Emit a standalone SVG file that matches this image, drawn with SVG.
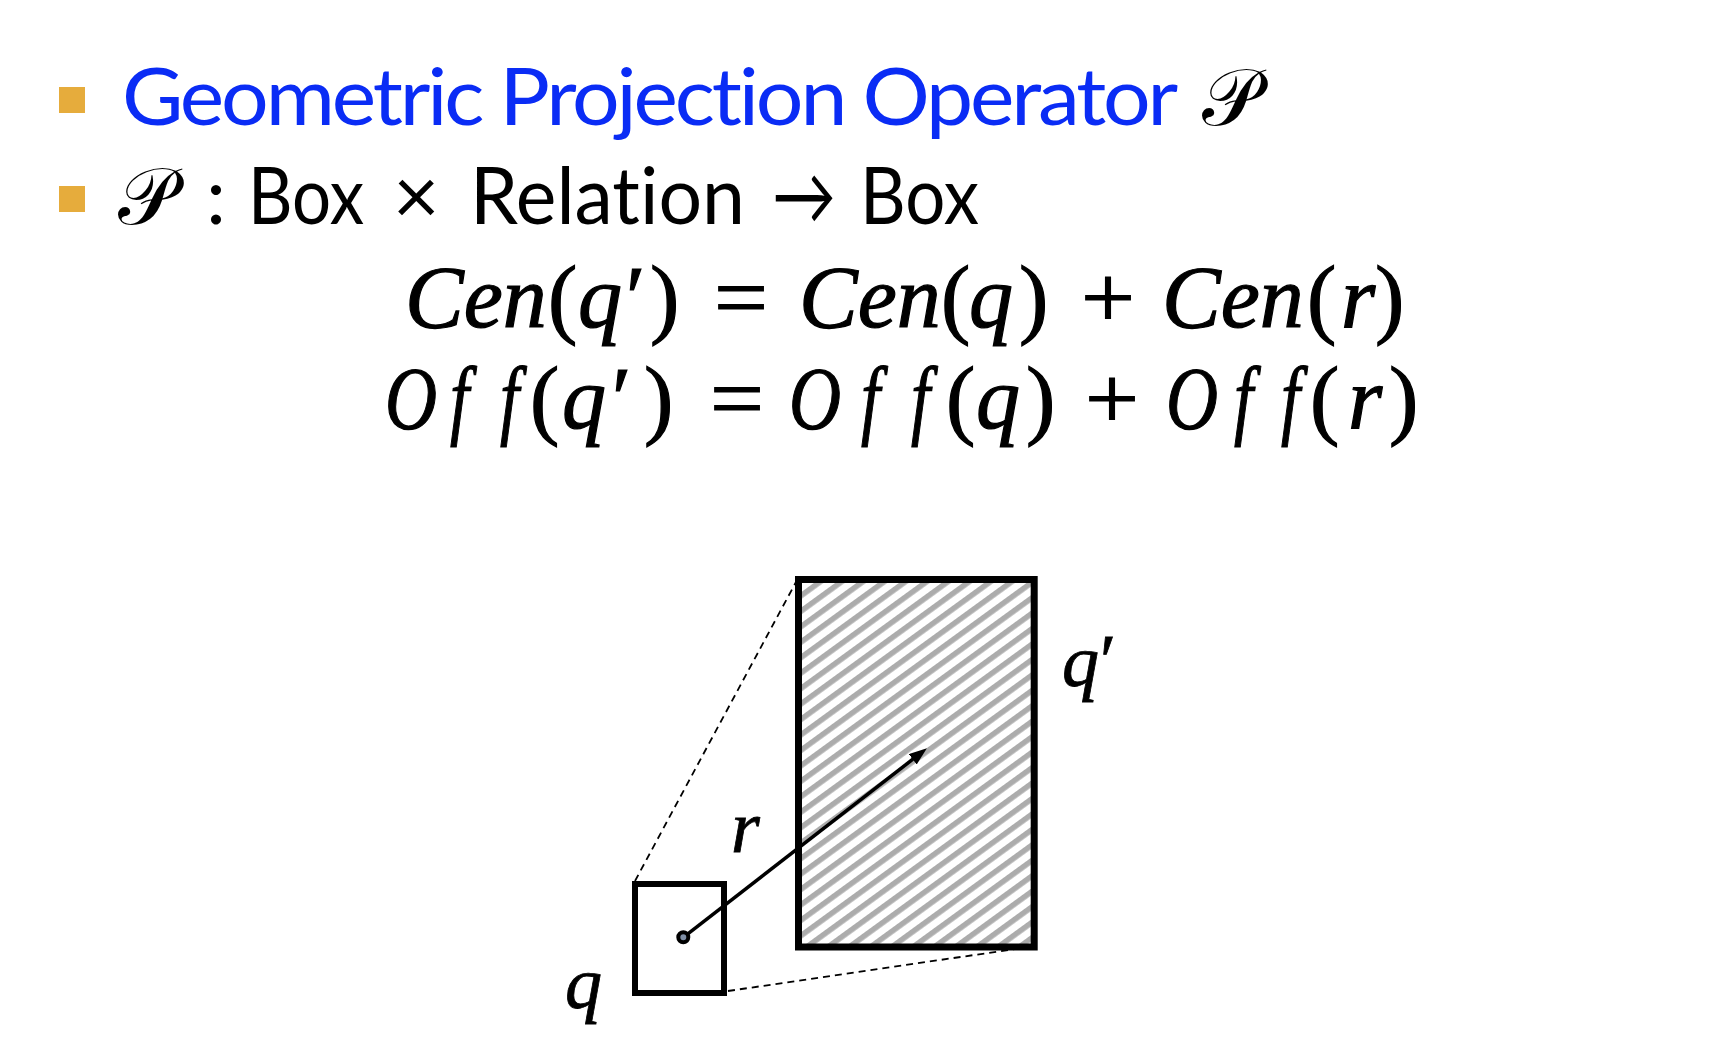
<svg xmlns="http://www.w3.org/2000/svg" width="1710" height="1050" viewBox="0 0 1710 1050">
<style>
.bul{fill:#E6AC3C}
.sans{font-family:Lato,"Open Sans","Liberation Sans",sans-serif;font-size:80px;font-variant-ligatures:none}
.math{font-family:"Liberation Serif","DejaVu Serif",serif;font-size:88px;fill:#000;stroke:#000;stroke-width:1.2}
.it{font-style:italic}
.lbl{font-family:"Liberation Serif","DejaVu Serif",serif;font-style:italic;font-size:74px;fill:#000;stroke:#000;stroke-width:0.8}
.scr{font-family:"DejaVu Serif","Noto Sans","Liberation Serif",serif;font-style:normal}
</style>
<defs>
<pattern id="hatch" patternUnits="userSpaceOnUse" width="20" height="12.5" patternTransform="rotate(-36)">
<rect width="20" height="12.5" fill="#fff"/>
<rect width="20" height="5.5" fill="#acacac"/>
</pattern>
<marker id="ah" markerUnits="userSpaceOnUse" markerWidth="18" markerHeight="13" refX="1" refY="6.5" orient="auto">
<path d="M0,0 L18,6.5 L0,13 z" fill="#000"/>
</marker>
</defs>
<rect width="1710" height="1050" fill="#fff"/>
<g id="bullet1">
<rect class="bul" x="59" y="87" width="26" height="26"/>
<text class="sans" x="122" y="125" font-size="78" fill="#0a2cf5" letter-spacing="-3" textLength="1053" lengthAdjust="spacingAndGlyphs">Geometric Projection Operator</text>
<text class="sans scr" x="1202" y="125" fill="#000">𝒫</text>
</g>
<g id="bullet2">
<rect class="bul" x="59" y="186" width="26" height="26"/>
<text class="sans" y="224" fill="#000"><tspan class="scr" x="118">𝒫</tspan><tspan x="206">:</tspan><tspan x="248" textLength="116" lengthAdjust="spacingAndGlyphs">Box</tspan><tspan x="393">×</tspan><tspan x="470" textLength="275" lengthAdjust="spacingAndGlyphs">Relation</tspan><tspan x="772" textLength="64" lengthAdjust="spacingAndGlyphs">→</tspan><tspan x="860" textLength="119" lengthAdjust="spacingAndGlyphs">Box</tspan></text>
</g>
<g id="eq1">
<text class="math" y="327"><tspan class="it" x="405">Cen</tspan><tspan x="548">(</tspan><tspan class="it" x="578">q</tspan><tspan x="626">′</tspan><tspan x="650">)</tspan><tspan x="714" textLength="54" lengthAdjust="spacingAndGlyphs">=</tspan><tspan class="it" x="799">Cen</tspan><tspan x="941">(</tspan><tspan class="it" x="969">q</tspan><tspan x="1019">)</tspan><tspan x="1081" textLength="54" lengthAdjust="spacingAndGlyphs">+</tspan><tspan class="it" x="1162">Cen</tspan><tspan x="1307">(</tspan><tspan class="it" x="1341">r</tspan><tspan x="1375">)</tspan></text>
</g>
<g id="eq2">
<text class="math" y="428"><tspan class="it" x="385" textLength="52" lengthAdjust="spacingAndGlyphs">O</tspan><tspan class="it" x="450" textLength="19" lengthAdjust="spacingAndGlyphs">f</tspan><tspan class="it" x="500" textLength="19" lengthAdjust="spacingAndGlyphs">f</tspan><tspan x="530">(</tspan><tspan class="it" x="562">q</tspan><tspan x="612">′</tspan><tspan x="644">)</tspan><tspan x="710" textLength="54" lengthAdjust="spacingAndGlyphs">=</tspan><tspan class="it" x="789" textLength="52" lengthAdjust="spacingAndGlyphs">O</tspan><tspan class="it" x="861" textLength="19" lengthAdjust="spacingAndGlyphs">f</tspan><tspan class="it" x="911" textLength="19" lengthAdjust="spacingAndGlyphs">f</tspan><tspan x="946">(</tspan><tspan class="it" x="976">q</tspan><tspan x="1026">)</tspan><tspan x="1085" textLength="54" lengthAdjust="spacingAndGlyphs">+</tspan><tspan class="it" x="1166" textLength="52" lengthAdjust="spacingAndGlyphs">O</tspan><tspan class="it" x="1234" textLength="19" lengthAdjust="spacingAndGlyphs">f</tspan><tspan class="it" x="1281" textLength="19" lengthAdjust="spacingAndGlyphs">f</tspan><tspan x="1310">(</tspan><tspan class="it" x="1348">r</tspan><tspan x="1389">)</tspan></text>
</g>
<g id="qprime">
<rect x="798.5" y="579.5" width="235.7" height="367.5" fill="url(#hatch)" stroke="#000" stroke-width="7"/>
<text class="lbl" x="1062" y="686">q<tspan x="1100" font-style="normal">′</tspan></text>
</g>
<g id="q">
<rect x="635" y="884" width="89" height="109" fill="none" stroke="#000" stroke-width="6"/>
<text class="lbl" x="565" y="1008">q</text>
</g>
<g id="connectors" fill="none" stroke="#000">
<line x1="635" y1="881" x2="796" y2="582" stroke-width="1.8" stroke-dasharray="7,5"/>
<line x1="728" y1="991" x2="1022" y2="948" stroke-width="1.8" stroke-dasharray="7,5"/>
<line x1="683.3" y1="937.3" x2="913.5" y2="758.7" stroke-width="3.5" marker-end="url(#ah)"/>
<circle cx="683.3" cy="937.3" r="5" fill="#7f8fa6" stroke-width="4"/>
</g>
<g id="r">
<text class="lbl" x="731" y="852">r</text>
</g>
</svg>
